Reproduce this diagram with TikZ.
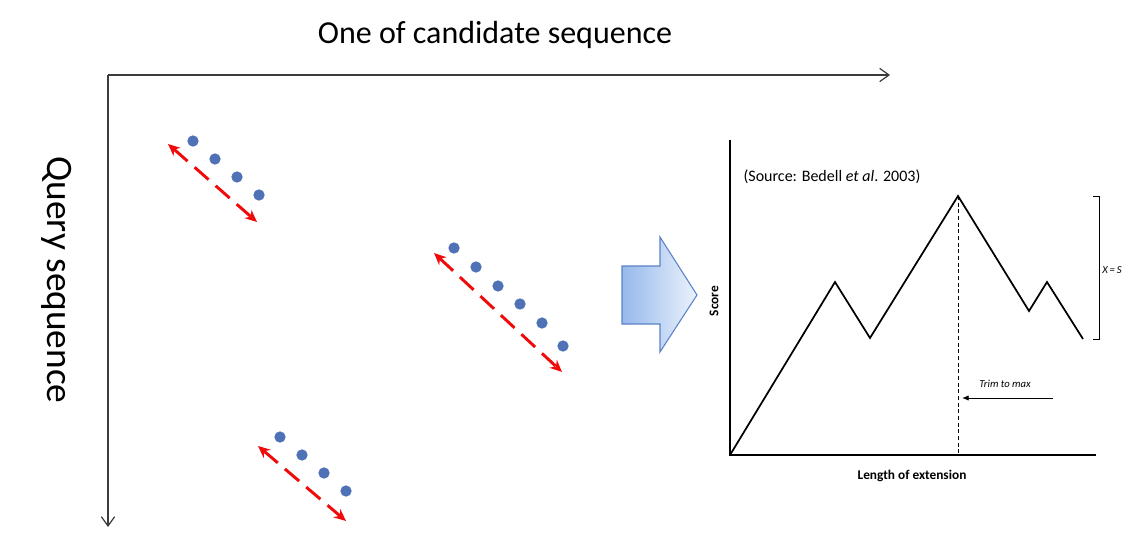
\documentclass[tikz,border=0pt]{standalone}
\usepackage{fontspec}
\setmainfont{Carlito}
\usetikzlibrary{arrows.meta}
\begin{document}
\begin{tikzpicture}[x=0.75pt,y=-0.75pt,
  dot/.style={circle,fill={rgb,255:red,79;green,114;blue,183},inner sep=0pt,minimum size=8.5pt},
  red/.style={draw={rgb,255:red,240;green,10;blue,10},line width=2.2pt,dash pattern=on 14pt off 7pt,{Stealth[length=9pt,width=8pt]}-{Stealth[length=9pt,width=8pt]}},
  ax/.style={draw={rgb,255:red,60;green,60;blue,60},line width=0.9pt}]
\useasboundingbox (0,0) rectangle (1139,556);
% axes
\coordinate (o) at (108,75); \coordinate (xe) at (890,75); \coordinate (ye) at (108,527);
\draw[ax,-{Straight Barb[length=7pt,width=10pt]}] (o) -- (xe);
\draw[ax,-{Straight Barb[length=7pt,width=10pt]}] (o) -- (ye);
\node (t1) at (495,35) {\fontsize{24}{28}\selectfont One of candidate sequence};
\node[rotate=-90] (t2) at (57,280) {\fontsize{28}{32}\selectfont Query sequence};
% group 1
\foreach \i/\x/\y in {1/193/141,2/215/159,3/237/177,4/259/195}{\node[dot] (a\i) at (\x,\y) {};}
\coordinate (a0) at (168,144); \coordinate (a9) at (257,222);
\draw[red] (a0) -- (a9);
% group 2
\foreach \i/\x/\y in {1/454/248,2/476/267,3/498/286,4/520/304,5/542/323,6/563/346}{\node[dot] (b\i) at (\x,\y) {};}
\coordinate (b0) at (434,253); \coordinate (b9) at (562,372);
\draw[red] (b0) -- (b9);
% group 3
\foreach \i/\x/\y in {1/280/437,2/302/455,3/324/473,4/346/491}{\node[dot] (c\i) at (\x,\y) {};}
\coordinate (c0) at (258,446); \coordinate (c9) at (346,521);
\draw[red] (c0) -- (c9);
% block arrow
\shade[left color={rgb,255:red,150;green,185;blue,235},right color={rgb,255:red,235;green,242;blue,252},draw={rgb,255:red,90;green,130;blue,200},line width=0.8pt]
 (622,266) -- (660,266) -- (660,237) -- (697,295) -- (660,352) -- (660,324) -- (622,324) -- cycle;
% chart
\coordinate (O) at (730,455);
\coordinate (Y) at (730,140);
\coordinate (X) at (1096,455);
\draw[line width=1.6pt] (Y) -- (O) -- (X);
\draw[line width=1.3pt,line join=miter] (O) -- (835,282) -- (870,338) -- (958,196) -- (1029,311) -- (1047,282) -- (1083,339);
\coordinate (pk) at (958,196); \coordinate (pb) at (958,455);
\draw[densely dashed,line width=0.4pt] (pk) -- (pb);
\draw[line width=0.6pt] (1093,196) -- (1099,196) -- (1099,339) -- (1093,339);
\node[font=\fontsize{8}{9}\itshape\selectfont] (xs) at (1112,270) {X\,=\,S};
\coordinate (ts) at (1053,398); \coordinate (te) at (962,398);
\draw[line width=0.6pt,-{Latex[length=5pt,width=4pt]}] (ts) -- (te);
\node[font=\fontsize{8}{9}\itshape\selectfont] (tm) at (1005,384) {Trim to max};
\node[rotate=90,font=\fontsize{10}{11}\bfseries\selectfont] (sc) at (714,301) {Score};
\node[font=\fontsize{10}{11}\bfseries\selectfont] (le) at (912,476) {Length of extension};
\node[font=\fontsize{12}{14}\selectfont] (src) at (832,177) {(Source: Bedell \textit{et al}. 2003)};
\end{tikzpicture}
\end{document}
